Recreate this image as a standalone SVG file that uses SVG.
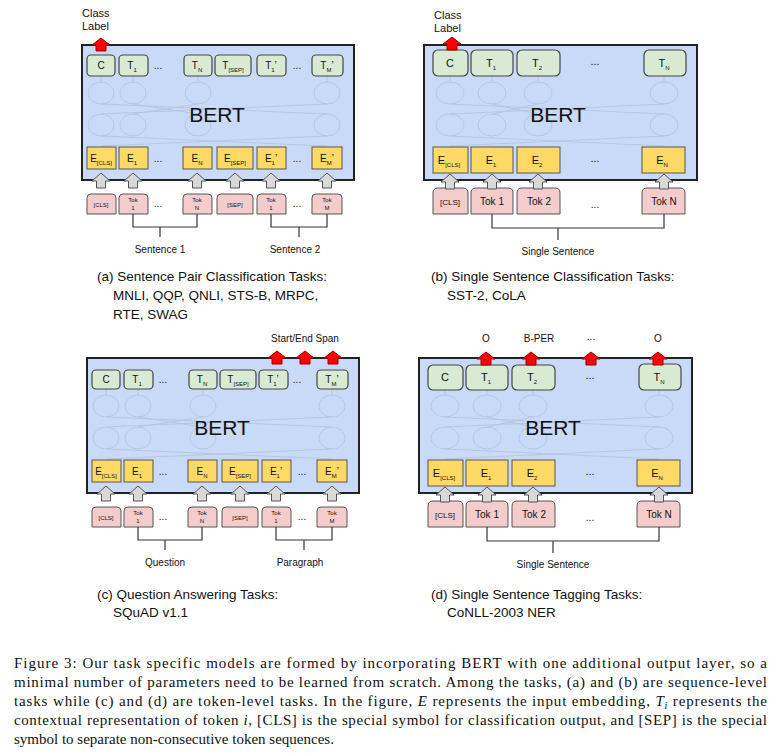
<svg xmlns="http://www.w3.org/2000/svg" width="780" height="754" viewBox="0 0 780 754">
<style>
text{font-family:"Liberation Sans",Arial,sans-serif;fill:#111}
.bert{fill:#c9daf8;stroke:#222;stroke-width:2}
.t{fill:#d9ead3;stroke:#444;stroke-width:1.2}
.e{fill:#ffd966;stroke:#555;stroke-width:1}
.k{fill:#f4cccc;stroke:#555;stroke-width:1}
.g{fill:#d9d9d9;stroke:#555;stroke-width:1}
.r{fill:#ff0000;stroke:#990000;stroke-width:1}
.net{fill:none;stroke:#b3c0dc;stroke-width:0.8}
.br{fill:none;stroke:#333;stroke-width:1.2}
.s{font-size:10px;text-anchor:middle}
.b{font-size:11px;text-anchor:middle}
.sub{font-size:6px}
.big{font-size:21px;text-anchor:middle}
.lab{font-size:11px}
.cap{font-size:13.5px}
.fig{font-family:"Liberation Serif","Times New Roman",serif;font-size:15px}
</style>
<defs>
<path id="ga" d="M0,0 L9,8 L4.5,8 L4.5,15 L-4.5,15 L-4.5,8 L-9,8 Z"/>
<path id="ra" d="M0,0 L9,7 L5,7 L5,13 L-5,13 L-5,7 L-9,7 Z"/>
</defs>

<!-- Panel A -->
<g id="panelA">
<rect class="bert" x="82" y="45" width="272" height="135"/>
<g class="net">
<ellipse cx="101" cy="93" rx="13" ry="11"/><ellipse cx="133" cy="93" rx="13" ry="11"/><ellipse cx="198" cy="93" rx="13" ry="11"/><ellipse cx="327" cy="93" rx="13" ry="11"/>
<ellipse cx="101" cy="125" rx="13" ry="11"/><ellipse cx="133" cy="125" rx="13" ry="11"/><ellipse cx="198" cy="125" rx="13" ry="11"/><ellipse cx="327" cy="125" rx="13" ry="11"/>
<path d="M101,104 L327,114 M327,104 L101,114 M133,104 L198,114 M198,104 L133,114 M101,136 L327,146 M327,136 L101,146 M101,76V82 M133,76V82 M198,76V82 M327,76V82"/>
</g>
<text class="big" x="217" y="122">BERT</text>
<rect class="t" x="87" y="55" width="28" height="21" rx="4"/><text class="s" x="101" y="69">C</text>
<rect class="t" x="119" y="55" width="29" height="21" rx="4"/><text class="s" x="132" y="69">T<tspan class="sub" dy="3">1</tspan></text>
<text class="s" x="158" y="69">...</text>
<rect class="t" x="184" y="55" width="28" height="21" rx="4"/><text class="s" x="197" y="69">T<tspan class="sub" dy="3">N</tspan></text>
<rect class="t" x="215" y="55" width="36" height="21" rx="4"/><text class="s" x="233" y="69">T<tspan class="sub" dy="3">[SEP]</tspan></text>
<rect class="t" x="257" y="55" width="29" height="21" rx="4"/><text class="s" x="271" y="69">T<tspan class="sub" dy="3">1</tspan><tspan dy="-3">’</tspan></text>
<text class="s" x="297" y="69">...</text>
<rect class="t" x="312" y="55" width="31" height="21" rx="4"/><text class="s" x="327" y="69">T<tspan class="sub" dy="3">M</tspan><tspan dy="-3">’</tspan></text>
<rect class="e" x="87" y="147" width="29" height="22"/><text class="s" x="101" y="162">E<tspan class="sub" dy="3">[CLS]</tspan></text>
<rect class="e" x="119" y="147" width="29" height="22"/><text class="s" x="132" y="162">E<tspan class="sub" dy="3">1</tspan></text>
<text class="s" x="158" y="162">...</text>
<rect class="e" x="183" y="147" width="29" height="22"/><text class="s" x="197" y="162">E<tspan class="sub" dy="3">N</tspan></text>
<rect class="e" x="217" y="147" width="36" height="22"/><text class="s" x="235" y="162">E<tspan class="sub" dy="3">[SEP]</tspan></text>
<rect class="e" x="257" y="147" width="29" height="22"/><text class="s" x="271" y="162">E<tspan class="sub" dy="3">1</tspan><tspan dy="-3">’</tspan></text>
<text class="s" x="297" y="162">...</text>
<rect class="e" x="312" y="147" width="30" height="22"/><text class="s" x="327" y="162">E<tspan class="sub" dy="3">M</tspan><tspan dy="-3">’</tspan></text>
<path class="k" d="M87,214V198Q87,194 91,194H112Q116,194 116,198V214Z"/><text class="sub" x="101" y="207" text-anchor="middle">[CLS]</text>
<path class="k" d="M119,214V198Q119,194 123,194H144Q148,194 148,198V214Z"/><text class="sub" x="133" y="202" text-anchor="middle">Tok</text><text class="sub" x="133" y="210" text-anchor="middle">1</text>
<text class="s" x="158" y="207">...</text>
<path class="k" d="M183,214V198Q183,194 187,194H208Q212,194 212,198V214Z"/><text class="sub" x="197" y="202" text-anchor="middle">Tok</text><text class="sub" x="197" y="210" text-anchor="middle">N</text>
<path class="k" d="M217,214V198Q217,194 221,194H249Q253,194 253,198V214Z"/><text class="sub" x="235" y="207" text-anchor="middle">[SEP]</text>
<path class="k" d="M257,214V198Q257,194 261,194H282Q286,194 286,198V214Z"/><text class="sub" x="271" y="202" text-anchor="middle">Tok</text><text class="sub" x="271" y="210" text-anchor="middle">1</text>
<text class="s" x="297" y="207">...</text>
<path class="k" d="M312,214V198Q312,194 316,194H338Q342,194 342,198V214Z"/><text class="sub" x="327" y="202" text-anchor="middle">Tok</text><text class="sub" x="327" y="210" text-anchor="middle">M</text>
<text class="lab" x="82" y="17">Class</text><text class="lab" x="82" y="30">Label</text>
<text class="s" x="160" y="253" font-size="10.5">Sentence 1</text>
<text class="s" x="295" y="253" font-size="10.5">Sentence 2</text>
</g>

<!-- Panel B -->
<g id="panelB">
<rect class="bert" x="424" y="45" width="273" height="135"/>
<g class="net">
<ellipse cx="450" cy="93" rx="14" ry="11"/><ellipse cx="492" cy="93" rx="14" ry="11"/><ellipse cx="538" cy="93" rx="14" ry="11"/><ellipse cx="664" cy="93" rx="14" ry="11"/>
<ellipse cx="450" cy="125" rx="14" ry="11"/><ellipse cx="492" cy="125" rx="14" ry="11"/><ellipse cx="538" cy="125" rx="14" ry="11"/><ellipse cx="664" cy="125" rx="14" ry="11"/>
<path d="M450,104 L664,114 M664,104 L450,114 M492,104 L538,114 M538,104 L492,114 M450,136 L664,146 M664,136 L450,146 M450,76V82 M492,76V82 M538,76V82 M664,76V82"/>
</g>
<text class="big" x="558" y="122">BERT</text>
<rect class="t" x="433" y="50" width="35" height="26" rx="5"/><text class="b" x="450" y="67">C</text>
<rect class="t" x="471" y="50" width="42" height="26" rx="5"/><text class="b" x="491" y="67">T<tspan class="sub" dy="3">1</tspan></text>
<rect class="t" x="517" y="50" width="43" height="26" rx="5"/><text class="b" x="537" y="67">T<tspan class="sub" dy="3">2</tspan></text>
<text class="b" x="595" y="65">...</text>
<rect class="t" x="644" y="50" width="42" height="26" rx="5"/><text class="b" x="664" y="67">T<tspan class="sub" dy="3">N</tspan></text>
<rect class="e" x="433" y="147" width="35" height="26"/><text class="b" x="449" y="164">E<tspan class="sub" dy="3">[CLS]</tspan></text>
<rect class="e" x="471" y="147" width="42" height="26"/><text class="b" x="491" y="164">E<tspan class="sub" dy="3">1</tspan></text>
<rect class="e" x="517" y="147" width="43" height="26"/><text class="b" x="537" y="164">E<tspan class="sub" dy="3">2</tspan></text>
<text class="b" x="595" y="162">...</text>
<rect class="e" x="642" y="147" width="43" height="26"/><text class="b" x="662" y="164">E<tspan class="sub" dy="3">N</tspan></text>
<path class="k" d="M433,214V193Q433,188 438,188H463Q468,188 468,193V214Z"/><text x="450" y="205" font-size="8" text-anchor="middle">[CLS]</text>
<path class="k" d="M471,214V193Q471,188 476,188H508Q513,188 513,193V214Z"/><text class="s" x="492" y="205">Tok 1</text>
<path class="k" d="M517,214V193Q517,188 522,188H555Q560,188 560,193V214Z"/><text class="s" x="539" y="205">Tok 2</text>
<text class="s" x="595" y="208">...</text>
<path class="k" d="M642,214V193Q642,188 647,188H680Q685,188 685,193V214Z"/><text class="s" x="664" y="205">Tok N</text>
<text class="lab" x="434" y="19">Class</text><text class="lab" x="434" y="32">Label</text>
<text class="s" x="558" y="255" font-size="10.5">Single Sentence</text>
</g>

<!-- Panel C -->
<g id="panelC" transform="translate(5,313)">
<rect class="bert" x="82" y="45" width="272" height="135"/>
<g class="net">
<ellipse cx="101" cy="93" rx="13" ry="11"/><ellipse cx="133" cy="93" rx="13" ry="11"/><ellipse cx="198" cy="93" rx="13" ry="11"/><ellipse cx="327" cy="93" rx="13" ry="11"/>
<ellipse cx="101" cy="125" rx="13" ry="11"/><ellipse cx="133" cy="125" rx="13" ry="11"/><ellipse cx="198" cy="125" rx="13" ry="11"/><ellipse cx="327" cy="125" rx="13" ry="11"/>
<path d="M101,104 L327,114 M327,104 L101,114 M133,104 L198,114 M198,104 L133,114 M101,136 L327,146 M327,136 L101,146 M101,76V82 M133,76V82 M198,76V82 M327,76V82"/>
</g>
<text class="big" x="217" y="122">BERT</text>
<rect class="t" x="87" y="57" width="28" height="19" rx="4"/><text class="s" x="101" y="70">C</text>
<rect class="t" x="119" y="57" width="29" height="19" rx="4"/><text class="s" x="132" y="70">T<tspan class="sub" dy="3">1</tspan></text>
<text class="s" x="158" y="70">...</text>
<rect class="t" x="184" y="57" width="28" height="19" rx="4"/><text class="s" x="197" y="70">T<tspan class="sub" dy="3">N</tspan></text>
<rect class="t" x="215" y="57" width="36" height="19" rx="4"/><text class="s" x="233" y="70">T<tspan class="sub" dy="3">[SEP]</tspan></text>
<rect class="t" x="254" y="57" width="29" height="19" rx="4"/><text class="s" x="268" y="70">T<tspan class="sub" dy="3">1</tspan><tspan dy="-3">’</tspan></text>
<text class="s" x="292" y="70">...</text>
<rect class="t" x="312" y="57" width="31" height="19" rx="4"/><text class="s" x="327" y="70">T<tspan class="sub" dy="3">M</tspan><tspan dy="-3">’</tspan></text>
<rect class="e" x="87" y="147" width="29" height="22"/><text class="s" x="101" y="162">E<tspan class="sub" dy="3">[CLS]</tspan></text>
<rect class="e" x="119" y="147" width="29" height="22"/><text class="s" x="132" y="162">E<tspan class="sub" dy="3">1</tspan></text>
<text class="s" x="158" y="162">...</text>
<rect class="e" x="183" y="147" width="29" height="22"/><text class="s" x="197" y="162">E<tspan class="sub" dy="3">N</tspan></text>
<rect class="e" x="217" y="147" width="36" height="22"/><text class="s" x="235" y="162">E<tspan class="sub" dy="3">[SEP]</tspan></text>
<rect class="e" x="257" y="147" width="29" height="22"/><text class="s" x="271" y="162">E<tspan class="sub" dy="3">1</tspan><tspan dy="-3">’</tspan></text>
<text class="s" x="297" y="162">...</text>
<rect class="e" x="312" y="147" width="30" height="22"/><text class="s" x="327" y="162">E<tspan class="sub" dy="3">M</tspan><tspan dy="-3">’</tspan></text>
<path class="k" d="M87,214V198Q87,194 91,194H112Q116,194 116,198V214Z"/><text class="sub" x="101" y="207" text-anchor="middle">[CLS]</text>
<path class="k" d="M119,214V198Q119,194 123,194H144Q148,194 148,198V214Z"/><text class="sub" x="133" y="202" text-anchor="middle">Tok</text><text class="sub" x="133" y="210" text-anchor="middle">1</text>
<text class="s" x="158" y="207">...</text>
<path class="k" d="M183,214V198Q183,194 187,194H208Q212,194 212,198V214Z"/><text class="sub" x="197" y="202" text-anchor="middle">Tok</text><text class="sub" x="197" y="210" text-anchor="middle">N</text>
<path class="k" d="M217,214V198Q217,194 221,194H249Q253,194 253,198V214Z"/><text class="sub" x="235" y="207" text-anchor="middle">[SEP]</text>
<path class="k" d="M257,214V198Q257,194 261,194H282Q286,194 286,198V214Z"/><text class="sub" x="271" y="202" text-anchor="middle">Tok</text><text class="sub" x="271" y="210" text-anchor="middle">1</text>
<text class="s" x="297" y="207">...</text>
<path class="k" d="M312,214V198Q312,194 316,194H338Q342,194 342,198V214Z"/><text class="sub" x="327" y="202" text-anchor="middle">Tok</text><text class="sub" x="327" y="210" text-anchor="middle">M</text>
<text class="s" x="300" y="29" font-size="10.5">Start/End Span</text>
<text class="s" x="160" y="253" font-size="10.5">Question</text>
<text class="s" x="295" y="253" font-size="10.5">Paragraph</text>
</g>

<!-- Panel D -->
<g id="panelD" transform="translate(-5,313)">
<rect class="bert" x="424" y="45" width="273" height="135"/>
<g class="net">
<ellipse cx="450" cy="93" rx="14" ry="11"/><ellipse cx="492" cy="93" rx="14" ry="11"/><ellipse cx="538" cy="93" rx="14" ry="11"/><ellipse cx="664" cy="93" rx="14" ry="11"/>
<ellipse cx="450" cy="125" rx="14" ry="11"/><ellipse cx="492" cy="125" rx="14" ry="11"/><ellipse cx="538" cy="125" rx="14" ry="11"/><ellipse cx="664" cy="125" rx="14" ry="11"/>
<path d="M450,104 L664,114 M664,104 L450,114 M492,104 L538,114 M538,104 L492,114 M450,136 L664,146 M664,136 L450,146 M450,76V82 M492,76V82 M538,76V82 M664,76V82"/>
</g>
<text class="big" x="558" y="122">BERT</text>
<rect class="t" x="433" y="52" width="35" height="25" rx="5"/><text class="b" x="450" y="68">C</text>
<rect class="t" x="471" y="52" width="42" height="25" rx="5"/><text class="b" x="491" y="68">T<tspan class="sub" dy="3">1</tspan></text>
<rect class="t" x="517" y="52" width="43" height="25" rx="5"/><text class="b" x="537" y="68">T<tspan class="sub" dy="3">2</tspan></text>
<text class="b" x="595" y="66">...</text>
<rect class="t" x="644" y="51" width="42" height="26" rx="5"/><text class="b" x="664" y="68">T<tspan class="sub" dy="3">N</tspan></text>
<rect class="e" x="433" y="147" width="35" height="26"/><text class="b" x="449" y="164">E<tspan class="sub" dy="3">[CLS]</tspan></text>
<rect class="e" x="471" y="147" width="42" height="26"/><text class="b" x="491" y="164">E<tspan class="sub" dy="3">1</tspan></text>
<rect class="e" x="517" y="147" width="43" height="26"/><text class="b" x="537" y="164">E<tspan class="sub" dy="3">2</tspan></text>
<text class="b" x="595" y="162">...</text>
<rect class="e" x="642" y="147" width="43" height="26"/><text class="b" x="662" y="164">E<tspan class="sub" dy="3">N</tspan></text>
<path class="k" d="M433,214V193Q433,188 438,188H463Q468,188 468,193V214Z"/><text x="450" y="205" font-size="8" text-anchor="middle">[CLS]</text>
<path class="k" d="M471,214V193Q471,188 476,188H508Q513,188 513,193V214Z"/><text class="s" x="492" y="205">Tok 1</text>
<path class="k" d="M517,214V193Q517,188 522,188H555Q560,188 560,193V214Z"/><text class="s" x="539" y="205">Tok 2</text>
<text class="s" x="595" y="208">...</text>
<path class="k" d="M642,214V193Q642,188 647,188H680Q685,188 685,193V214Z"/><text class="s" x="664" y="205">Tok N</text>
<text class="s" x="491" y="29" font-size="10.5">O</text>
<text class="s" x="544" y="29" font-size="10.5">B-PER</text>
<text class="s" x="596" y="27">...</text>
<text class="s" x="663" y="29" font-size="10.5">O</text>
<text class="s" x="558" y="255" font-size="10.5">Single Sentence</text>
</g>

<!-- connectors -->
<g id="connectors">
<g>
<use href="#ra" x="101" y="38" class="r"/>
<use href="#ga" x="101" y="173" class="g"/><use href="#ga" x="133" y="173" class="g"/><use href="#ga" x="197" y="173" class="g"/><use href="#ga" x="235" y="173" class="g"/><use href="#ga" x="271" y="173" class="g"/><use href="#ga" x="327" y="173" class="g"/>
<path class="br" d="M133,214V227H197V214 M160,227V237 M271,214V227H327V214 M299,227V237"/>
</g>
<g>
<use href="#ra" x="452" y="37" class="r"/>
<use href="#ga" x="450" y="174" class="g"/><use href="#ga" x="492" y="174" class="g"/><use href="#ga" x="538" y="174" class="g"/><use href="#ga" x="664" y="174" class="g"/>
<path class="br" d="M492,214V228H664V214 M558,228V240"/>
</g>
<g transform="translate(5,313)">
<use href="#ra" x="272" y="38" class="r"/><use href="#ra" x="300" y="38" class="r"/><use href="#ra" x="328" y="38" class="r"/>
<use href="#ga" x="101" y="173" class="g"/><use href="#ga" x="133" y="173" class="g"/><use href="#ga" x="197" y="173" class="g"/><use href="#ga" x="235" y="173" class="g"/><use href="#ga" x="271" y="173" class="g"/><use href="#ga" x="327" y="173" class="g"/>
<path class="br" d="M133,214V227H197V214 M160,227V237 M271,214V227H327V214 M299,227V237"/>
</g>
<g transform="translate(-5,313)">
<use href="#ra" x="491" y="39" class="r"/><use href="#ra" x="536" y="39" class="r"/><use href="#ra" x="596" y="39" class="r"/><use href="#ra" x="663" y="39" class="r"/>
<use href="#ga" x="450" y="174" class="g"/><use href="#ga" x="492" y="174" class="g"/><use href="#ga" x="538" y="174" class="g"/><use href="#ga" x="664" y="174" class="g"/>
<path class="br" d="M492,214V228H664V214 M558,228V240"/>
</g>
</g>

<!-- captions -->
<g id="captions">
<text class="cap" x="97" y="281">(a) Sentence Pair Classification Tasks:</text>
<text class="cap" x="113" y="300">MNLI, QQP, QNLI, STS-B, MRPC,</text>
<text class="cap" x="113" y="319">RTE, SWAG</text>
<text class="cap" x="431" y="281">(b) Single Sentence Classification Tasks:</text>
<text class="cap" x="447" y="300">SST-2, CoLA</text>
<text class="cap" x="97" y="599">(c) Question Answering Tasks:</text>
<text class="cap" x="113" y="617">SQuAD v1.1</text>
<text class="cap" x="431" y="599">(d) Single Sentence Tagging Tasks:</text>
<text class="cap" x="447" y="617">CoNLL-2003 NER</text>
<text class="fig" x="14" y="668" textLength="753" lengthAdjust="spacing">Figure 3: Our task specific models are formed by incorporating BERT with one additional output layer, so a</text>
<text class="fig" x="14" y="687" textLength="753" lengthAdjust="spacing">minimal number of parameters need to be learned from scratch. Among the tasks, (a) and (b) are sequence-level</text>
<text class="fig" x="14" y="706" textLength="753" lengthAdjust="spacing">tasks while (c) and (d) are token-level tasks. In the figure, <tspan font-style="italic">E</tspan> represents the input embedding, <tspan font-style="italic">T<tspan font-size="10" dy="3">i</tspan></tspan><tspan dy="-3"> represents the</tspan></text>
<text class="fig" x="14" y="725" textLength="753" lengthAdjust="spacing">contextual representation of token <tspan font-style="italic">i</tspan>, [CLS] is the special symbol for classification output, and [SEP] is the special</text>
<text class="fig" x="14" y="744">symbol to separate non-consecutive token sequences.</text>
</g>
</svg>
